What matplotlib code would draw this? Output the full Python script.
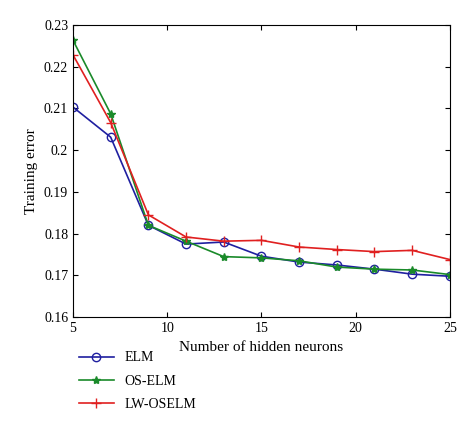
import matplotlib
matplotlib.use("Agg")
import matplotlib.pyplot as plt

plt.rcParams['font.family'] = ['Liberation Serif', 'DejaVu Serif']

neurons = [5, 7, 9, 11, 13, 15, 17, 19, 21, 23, 25]
elm = [0.2103, 0.2031, 0.1820, 0.1775, 0.1780, 0.1746, 0.1732, 0.1725, 0.1715, 0.1703, 0.1698]
os_elm = [0.2263, 0.2087, 0.1820, 0.1782, 0.1745, 0.1742, 0.1735, 0.1720, 0.1715, 0.1713, 0.1702]
lw_oselm = [0.2228, 0.2066, 0.1845, 0.1792, 0.1782, 0.1784, 0.1768, 0.1762, 0.1757, 0.1760, 0.1738]

fig = plt.figure(figsize=(4.74, 4.43), dpi=100)
ax = fig.add_axes([0.154, 0.284, 0.795, 0.66])
l1, = ax.plot(neurons, elm, color='#1f1fa0', marker='o', mfc='none', ms=6, lw=1.2, label='ELM')
l2, = ax.plot(neurons, os_elm, color='#1a8a2a', marker='*', ms=6, lw=1.2, label='OS-ELM')
l3, = ax.plot(neurons, lw_oselm, color='#e02020', marker='+', ms=7, lw=1.2, label='LW-OSELM')
ax.set_xlim(5, 25)
ax.set_ylim(0.16, 0.23)
ax.set_xticks([5, 10, 15, 20, 25])
ax.set_yticks([0.16, 0.17, 0.18, 0.19, 0.2, 0.21, 0.22, 0.23])
ax.set_yticklabels(['0.16', '0.17', '0.18', '0.19', '0.2', '0.21', '0.22', '0.23'])
ax.tick_params(direction='in', top=True, right=True, labelsize=10)
ax.set_xlabel('Number of hidden neurons', fontsize=11)
ax.set_ylabel('Training error', fontsize=11)
fig.legend(handles=[l1, l2, l3], loc='upper left', bbox_to_anchor=(0.14, 0.235),
           frameon=False, fontsize=10, handlelength=2.5, labelspacing=0.75)
fig.savefig('out.png', dpi=100)
